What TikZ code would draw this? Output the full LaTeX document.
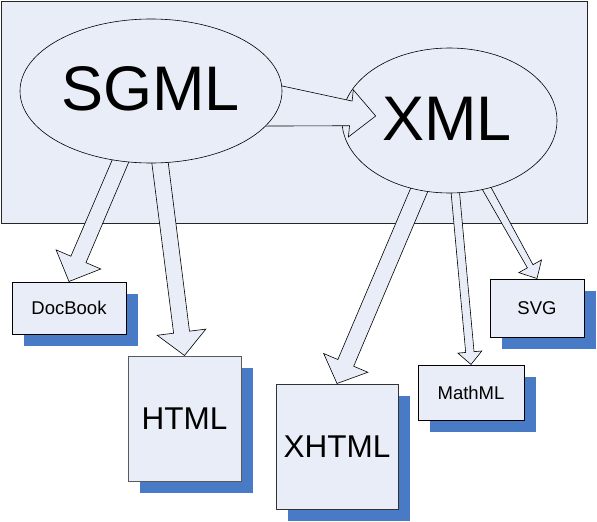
\documentclass[tikz,border=0pt]{standalone}
\usepackage{fontspec}
\setmainfont{Liberation Sans}
\usetikzlibrary{calc,shapes.geometric,shadows}
\definecolor{panel}{RGB}{233,237,247}
\definecolor{shadowblue}{RGB}{72,122,198}
\tikzset{
  outerframe/.style={draw=black!85, fill=panel, line width=0.8pt},
  langbox/.style={draw=black, fill=panel, line width=1pt, inner sep=0pt,
    drop shadow={shadow xshift=12pt, shadow yshift=-12pt, fill=shadowblue, opacity=1}},
  bubble/.style={ellipse, draw=black, fill=panel, line width=0.6pt, inner sep=0pt},
  fatarrow/.style={draw=black, fill=panel, line width=0.6pt, line join=miter},
  smalltext/.style={font=\fontsize{18.5}{22}\selectfont},
  midtext/.style={font=\fontsize{31.5}{36}\selectfont},
  bigtext/.style={font=\fontsize{63}{70}\selectfont, inner sep=0pt, anchor=base},
}
\newcommand\blockarrow[6]{%
  \coordinate (baT) at (#1);
  \coordinate (baP) at (#2);
  \coordinate (baH) at ($(baP)!#6pt!(baT)$);
  \draw[fatarrow] ($(baT)!#3pt!90:(baP)$) -- ($(baH)!#4pt!90:(baP)$)
    -- ($(baH)!#5pt!90:(baP)$) -- (baP) -- ($(baH)!#5pt!-90:(baP)$)
    -- ($(baH)!#4pt!-90:(baP)$) -- ($(baT)!#3pt!-90:(baP)$) -- cycle;
}
\begin{document}
\begin{tikzpicture}[x=1pt,y=-1pt]
\useasboundingbox (0,0) rectangle (597,522);
% panel
\draw[outerframe] (1,1) rectangle (587,223);
% language boxes
\node[langbox, smalltext, minimum width=114pt, minimum height=52pt] (docbook) at (69,308) {DocBook};
\node[langbox, midtext, draw=black!65, minimum width=113pt, minimum height=125pt] (html) at (184.5,418.5) {HTML};
\node[langbox, midtext, draw=black!80, minimum width=122pt, minimum height=125pt] (xhtml) at (337,446.5) {XHTML};
\node[langbox, smalltext, minimum width=106pt, minimum height=55pt] (mathml) at (471,392.5) {MathML};
\node[langbox, smalltext, minimum width=94pt, minimum height=58pt] (svg) at (537,308) {SVG};
% tails / tips
\coordinate (tSgmlXml) at (240,101.8);
\coordinate (pSgmlXml) at (375.7,116);
\coordinate (tDoc) at (135.6,125.7);
\coordinate (tHtml) at (155,123.1);
\coordinate (tXhtml) at (434.3,154.4);
\coordinate (tMath) at (451.6,151.9);
\coordinate (tSvg) at (466.9,153);
% arrows out of XML
\blockarrow{tXhtml}{xhtml.north}{8.5}{8.6}{24}{22.4}
\blockarrow{tMath}{mathml.north}{4.2}{4.2}{12}{12.5}
\blockarrow{tSvg}{svg.north}{4.8}{3.2}{13}{14}
% XML ellipse
\node[bubble, minimum width=215pt, minimum height=145pt] (xml) at (449.5,120.5) {};
% SGML -> XML
\blockarrow{tSgmlXml}{pSgmlXml}{24.5}{12.4}{23.7}{25}
% arrows out of SGML
\blockarrow{tDoc}{docbook.north}{8}{8.2}{24.3}{24}
\blockarrow{tHtml}{html.north}{8.2}{8}{24.5}{23.5}
% SGML ellipse
\node[bubble, minimum width=262pt, minimum height=144pt] (sgml) at (151,91) {};
% labels
\node[bigtext] (sgmllabel) at (150.5,110) {SGML};
\node[bigtext] (xmllabel) at (447,140) {XML};
\end{tikzpicture}
\end{document}
